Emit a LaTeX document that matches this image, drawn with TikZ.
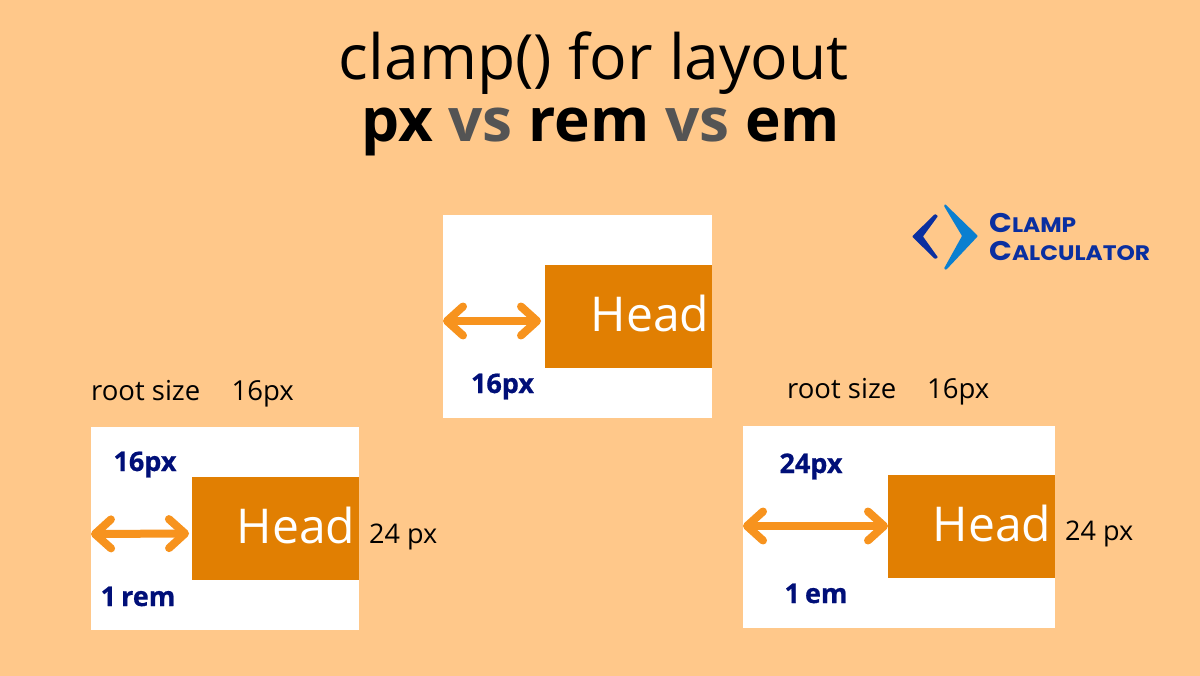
\documentclass[tikz,border=0pt]{standalone}
\usepackage{fontspec}
\setmainfont{Open Sans}
\newfontfamily\logofont{Poppins}[UprightFont=* Bold,FakeStretch=1.11]
\newfontfamily\navyfont{Open Sans}[UprightFont=* Bold,FakeBold=0.6]
\usetikzlibrary{arrows.meta}
\definecolor{bgc}{HTML}{FFC88A}
\definecolor{headc}{HTML}{E17F02}
\definecolor{arrowc}{HTML}{F7931E}
\definecolor{navyc}{HTML}{000F78}
\definecolor{greyc}{HTML}{545454}
\definecolor{logoa}{HTML}{0A2FA0}
\definecolor{logob}{HTML}{0A7FD0}
\newcommand{\fs}[1]{\fontsize{#1}{#1}\selectfont}
\tikzset{
 card/.style={fill=white,draw=none,inner sep=0pt,outer sep=0pt,anchor=north west,minimum width=#1,minimum height=202.5pt},
 headbox/.style={fill=headc,inner sep=0pt,outer sep=0pt,anchor=north west,minimum width=167pt,minimum height=103pt},
 headtxt/.style={text=white,inner sep=0pt,anchor=base east,font=\fs{48}},
 dim/.style={draw=arrowc,line width=8pt,line cap=round,{Straight Barb[round,length=16pt,width=29pt,line width=8pt]}-{Straight Barb[round,length=16pt,width=29pt,line width=8pt]}},
 navy/.style={text=navyc,inner sep=0pt,anchor=base,font=\fs{27}\navyfont},
 lbl/.style={text=black,inner sep=0pt,anchor=base west,font=\fs{27.5}},
 lblb/.style={lbl,font=\fs{27}},
 title/.style={inner sep=0pt,anchor=base},
 logotxt/.style={text=logoa,inner sep=0pt,anchor=base west,font=\logofont},
}
\begin{document}
\begin{tikzpicture}[x=1pt,y=-1pt]
\useasboundingbox (0,0) rectangle (1200,676);
\fill[bgc] (0,0) rectangle (1200,676);
% title
\node[title,font=\fs{62.4}] (t1) at (594,80) {clamp() for layout};
\node[title,font=\fs{60.3}\bfseries] (t2) at (600.5,142) {px \textcolor{greyc}{vs} rem \textcolor{greyc}{vs} em};
% top card
\node[card=269pt] (c1) at (443,215) {};
\node[headbox] (h1) at (545,265) {};
\node[headtxt] (ht1) at (709.5,332) {Head};
\coordinate (a1l) at (443,321);
\coordinate (a1r) at (541,321);
\draw[dim] (a1l) -- (a1r);
\node[navy] (n1) at (502.5,393) {16px};
% left card
\node[card=268pt] (c2) at (91,427.3) {};
\node[headbox] (h2) at (192,477) {};
\node[headtxt] (ht2) at (355.5,543) {Head};
\coordinate (a2l) at (91,534);
\coordinate (a2r) at (189,533.5);
\draw[dim] (a2l) -- (a2r);
\node[navy] (n2) at (145,471) {16px};
\node[navy] (n3) at (138,606) {1\hspace{5pt}rem};
\node[lbl] (l1) at (91,400) {root size};
\node[lbl] (l2) at (231.5,400) {16px};
\node[lblb] (l3) at (369,543) {24 px};
% right card
\node[card=312pt] (c3) at (743,425.5) {};
\node[headbox] (h3) at (888,475) {};
\node[headtxt] (ht3) at (1051.5,541) {Head};
\coordinate (a3l) at (743,526);
\coordinate (a3r) at (888,526);
\draw[dim] (a3l) -- (a3r);
\node[navy] (n4) at (811,473) {24px};
\node[navy] (n5) at (816,603) {1\hspace{5pt}em};
\node[lbl] (l4) at (787,399) {root size};
\node[lbl] (l5) at (927,399) {16px};
\node[lblb] (l6) at (1065,540) {24 px};
% logo
\fill[logoa,rounded corners=0.8pt] (935,214) -- (912,236.5) -- (935,259) -- (938,257.5) -- (923,236.5) -- (938,216) -- cycle;
\fill[logob,rounded corners=0.8pt] (945,204) -- (978,236) -- (946,270) -- (944,268.5) -- (962,236) -- (944,206) -- cycle;
\node[logotxt] (lg1) at (989,232.5) {\fs{27}C\fs{21}LAMP};
\node[logotxt] (lg2) at (989,260.5) {\fs{27}C\fs{21}ALCULATOR};
\end{tikzpicture}
\end{document}
